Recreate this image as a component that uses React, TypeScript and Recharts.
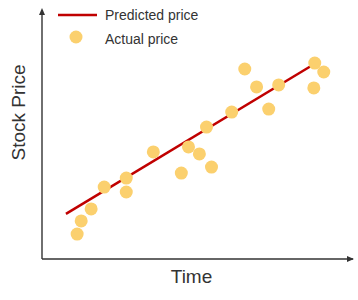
import {
  ComposedChart,
  Scatter,
  Line,
  XAxis,
  YAxis,
  ReferenceDot,
} from "recharts";

// abstract units: time 0-100, price 0-100
const actualTime = [11.3, 12.6, 15.8, 20.0, 27.1, 27.1, 35.8, 44.8, 47.1, 50.6, 52.9, 54.5, 61.0, 65.2, 69.0, 72.9, 76.1, 87.4, 87.7, 90.6];
const actualPrice = [10.0, 15.3, 20.1, 28.9, 32.5, 26.9, 43.0, 34.5, 45.0, 42.2, 53.0, 36.9, 59.0, 76.3, 69.1, 60.2, 69.9, 68.7, 78.7, 75.1];

const predictedTime = [7.7, 86.5];
const predictedPrice = [18.1, 77.5];

const actual = actualTime.map((time, i) => ({ time, price: actualPrice[i] }));
const predicted = predictedTime.map((time, i) => ({ time, price: predictedPrice[i] }));

const RED = "#c00000";
const YELLOW = "#fbd06e";
const AXIS = "#333";
const FONT = "'Liberation Sans', Arial, sans-serif";

function Dot(props: any) {
  return <circle cx={props.cx} cy={props.cy} r={6.5} fill={YELLOW} />;
}

function ArrowRight(props: any) {
  const { cx, cy } = props;
  return <path d={`M${cx + 1},${cy} L${cx - 6},${cy - 3} L${cx - 6},${cy + 3} Z`} fill={AXIS} />;
}

function ArrowUp(props: any) {
  const { cx, cy } = props;
  return <path d={`M${cx},${cy - 2} L${cx - 3},${cy + 5} L${cx + 3},${cy + 5} Z`} fill={AXIS} />;
}

function LegendBox() {
  return (
    <svg
      width={160}
      height={50}
      style={{ position: "absolute", left: 55, top: 0, fontFamily: FONT }}
    >
      <line x1={3} y1={15} x2={42} y2={15} stroke={RED} strokeWidth={2.5} />
      <text x={50} y={19.5} fontSize={14} fill="#333">Predicted price</text>
      <circle cx={21} cy={37} r={6.5} fill={YELLOW} />
      <text x={50} y={44} fontSize={14} fill="#333">Actual price</text>
    </svg>
  );
}

export default function App() {
  return (
    <div style={{ position: "absolute", left: 0, top: 0, width: 358, height: 300, background: "#fff" }}>
      <ComposedChart
        width={358}
        height={300}
        margin={{ top: 10, right: 5, left: 12, bottom: 11 }}
      >
        <XAxis
          dataKey="time"
          type="number"
          domain={[0, 100]}
          tick={false}
          tickLine={false}
          height={30}
          axisLine={{ stroke: AXIS, strokeWidth: 1.4 }}
          label={({ viewBox }: any) => (
            <text
              x={viewBox.x + viewBox.width / 2 - 6}
              y={viewBox.y + 24}
              fontSize={19}
              fontFamily={FONT}
              fill="#333"
              textAnchor="middle"
            >
              Time
            </text>
          )}
        />
        <YAxis
          dataKey="price"
          type="number"
          domain={[0, 100]}
          tick={false}
          tickLine={false}
          width={30}
          axisLine={{ stroke: AXIS, strokeWidth: 1.4 }}
          label={({ viewBox }: any) => {
            const x = viewBox.x + viewBox.width - 17;
            const y = viewBox.y + viewBox.height / 2 - 22;
            return (
              <text
                x={x}
                y={y}
                fontSize={19}
                fontFamily={FONT}
                fill="#333"
                textAnchor="middle"
                transform={`rotate(-90, ${x}, ${y})`}
              >
                Stock Price
              </text>
            );
          }}
        />
        <Line
          data={predicted}
          dataKey="price"
          type="linear"
          stroke={RED}
          strokeWidth={2.5}
          dot={false}
          isAnimationActive={false}
          legendType="none"
        />
        <Scatter
          data={actual}
          dataKey="price"
          shape={Dot}
          isAnimationActive={false}
          legendType="none"
        />
        <ReferenceDot x={100} y={0} ifOverflow="visible" shape={ArrowRight} />
        <ReferenceDot x={0} y={100} ifOverflow="visible" shape={ArrowUp} />
      </ComposedChart>
      <LegendBox />
    </div>
  );
}
